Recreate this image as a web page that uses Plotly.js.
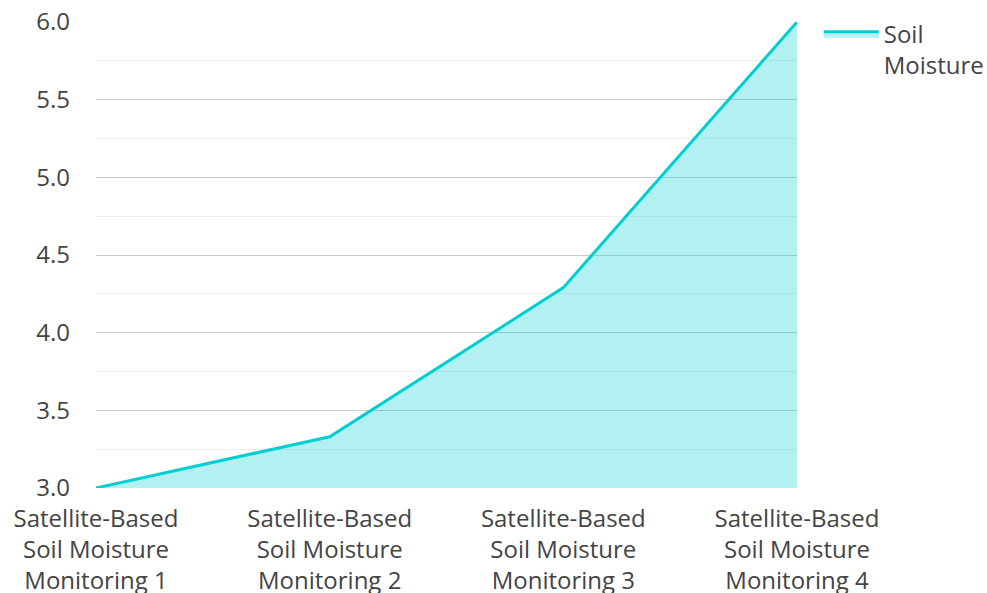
<!DOCTYPE html>
<html>
<head>
<meta charset="utf-8">
<script src="https://cdn.plot.ly/plotly-3.0.1.min.js"></script>
<style>html,body{margin:0;padding:0;background:#fff;}#chart{width:987px;height:593px;}</style>
</head>
<body>
<div id="chart"></div>
<script>
const categories = [
  "Satellite-Based<br>Soil Moisture<br>Monitoring 1",
  "Satellite-Based<br>Soil Moisture<br>Monitoring 2",
  "Satellite-Based<br>Soil Moisture<br>Monitoring 3",
  "Satellite-Based<br>Soil Moisture<br>Monitoring 4"
];
const soilMoisture = [3.0, 3.33, 4.29, 6.0];
const seriesName = "Soil<br>Moisture";

const trace = {
  type: "scatter",
  mode: "lines",
  x: categories,
  y: soilMoisture,
  name: seriesName,
  fill: "tozeroy",
  fillcolor: "rgba(0,206,209,0.3)",
  line: {color: "#00CED1", width: 3}
};

const layout = {
  width: 987,
  height: 593,
  margin: {l: 96, r: 190, t: 22, b: 105, autoexpand: false},
  paper_bgcolor: "#fff",
  plot_bgcolor: "#fff",
  font: {family: "Open Sans, sans-serif", size: 24, color: "#444"},
  showlegend: true,
  legend: {x: 1.031, y: 1.022, xanchor: "left", yanchor: "top", valign: "top", itemwidth: 55, font: {size: 24, color: "#444"}},
  xaxis: {
    type: "category",
    range: [0, 3],
    showgrid: false,
    zeroline: false,
    showline: false,
    ticks: "",
    ticklabelstandoff: 14,
    tickfont: {size: 24, color: "#444"},
    automargin: false
  },
  yaxis: {
    range: [3, 6],
    dtick: 0.5,
    tickformat: ".1f",
    showgrid: true,
    gridcolor: "#ccc",
    gridwidth: 1,
    zeroline: false,
    showline: false,
    ticks: "",
    ticklabelstandoff: 25,
    tickfont: {size: 24, color: "#444"},
    minor: {dtick: 0.25, showgrid: true, gridcolor: "#eee", gridwidth: 1},
    automargin: false
  }
};

Plotly.newPlot("chart", [trace], layout, {displayModeBar: false, staticPlot: true});
</script>
</body>
</html>
